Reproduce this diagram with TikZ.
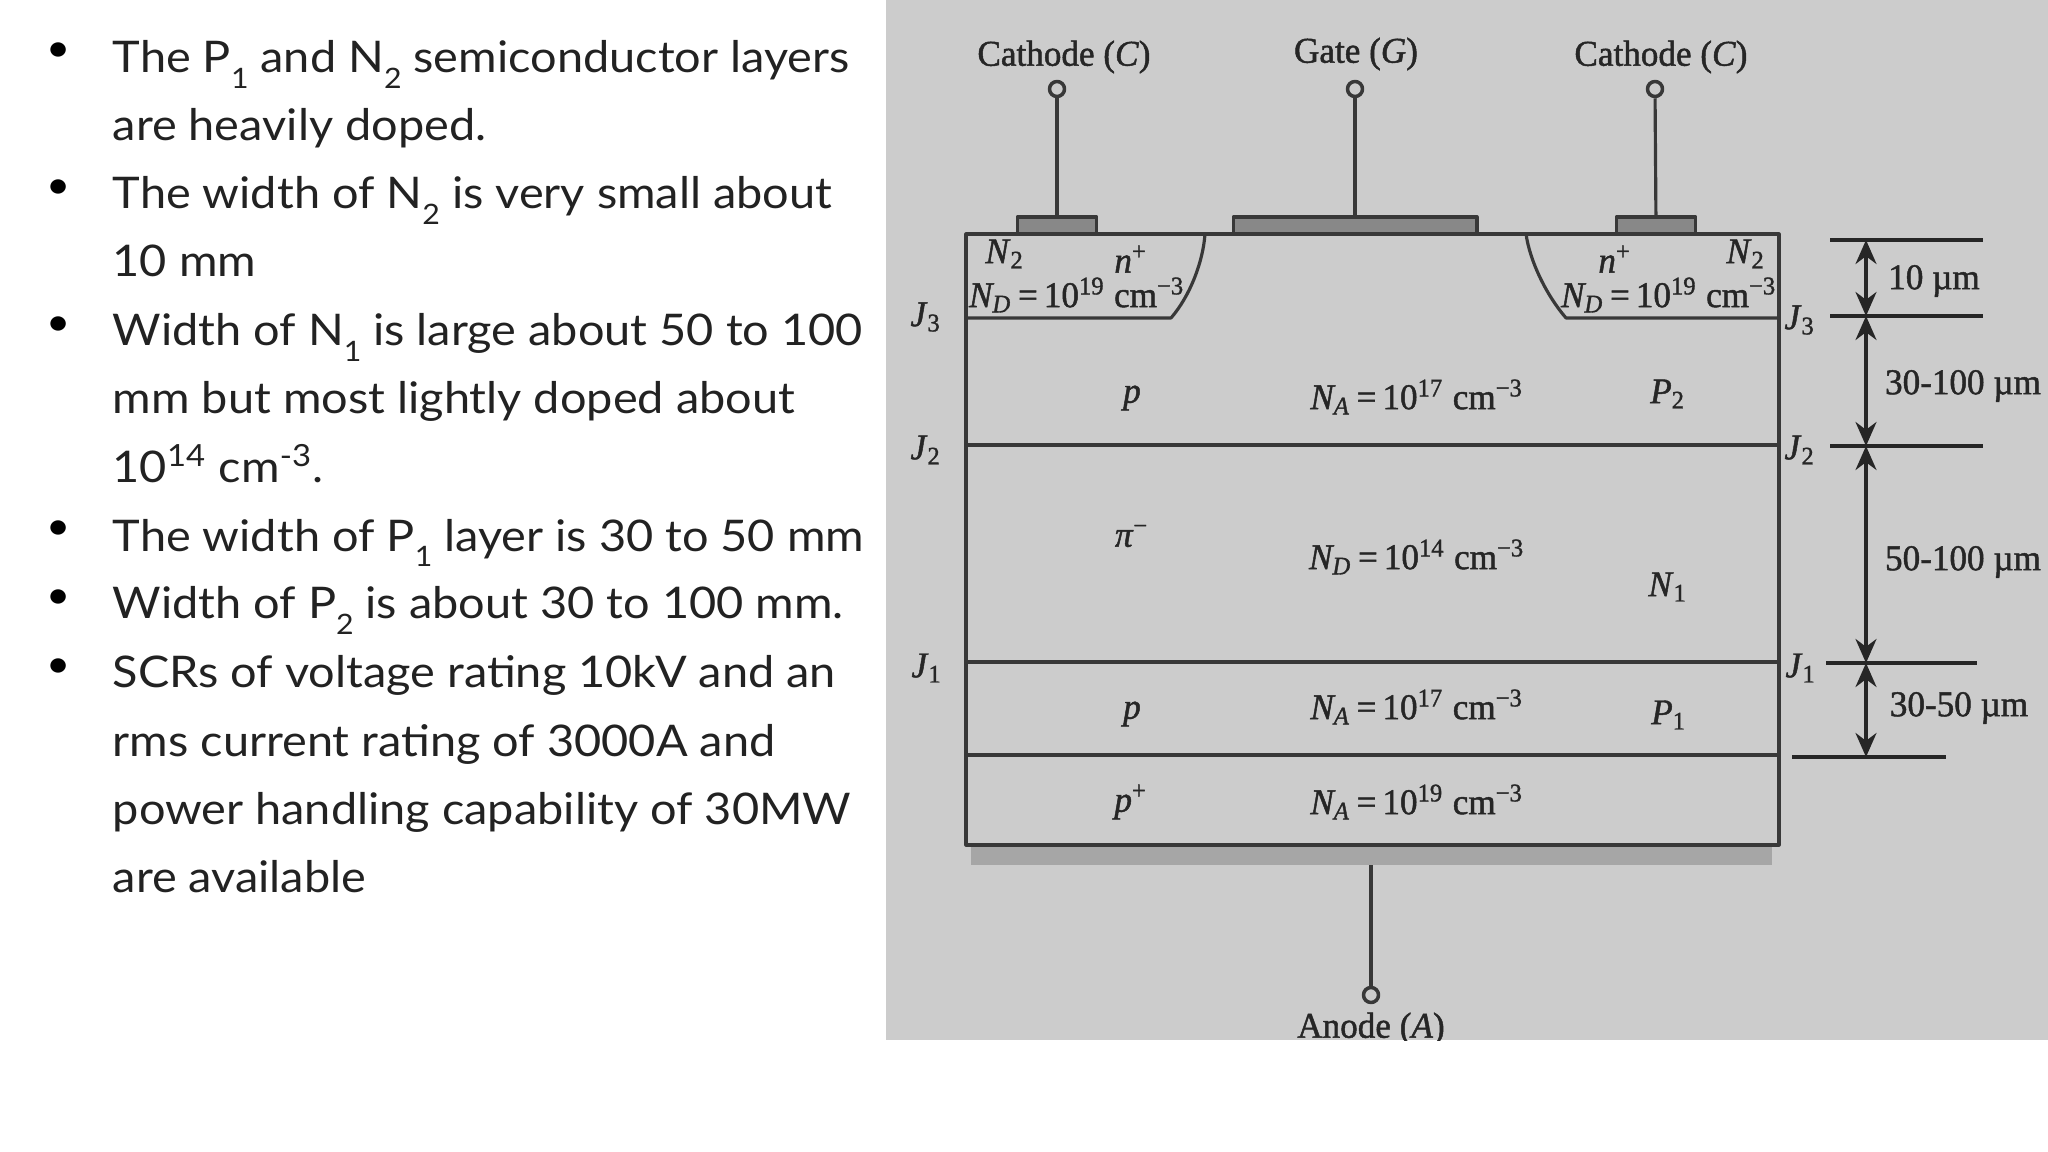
\documentclass[tikz,border=0pt]{standalone}
\usepackage{fontspec}
\setmainfont{Liberation Serif}
\newfontfamily\notefont[FakeStretch=1.075]{Lato}
\newfontfamily\lblfont[FakeBold=1.3,FakeStretch=.97]{Liberation Serif}
\usetikzlibrary{arrows.meta}
\definecolor{panel}{HTML}{CCCCCC}
\definecolor{padgray}{HTML}{888888}
\definecolor{shadowgray}{HTML}{A6A6A6}
\definecolor{inkgray}{HTML}{383838}
\definecolor{notegray}{HTML}{222222}
\newcommand{\lowsub}[1]{\raisebox{-.7ex}{\fontsize{8}{9}\selectfont #1}}
\newcommand{\ssub}[1]{\textsubscript{#1}}
\newcommand{\ssup}[1]{\textsuperscript{#1}}
\newcommand{\dope}[3]{\textit{N\ssub{#1}}\,=\,10\ssup{#2} cm\ssup{−#3}}
\tikzset{
	noteline/.style={anchor=base west,inner sep=0pt,font=\notefont\fontsize{12.4}{14}\selectfont,text=notegray},
	notedot/.style={anchor=base,inner sep=0pt,font=\notefont\fontsize{11}{12}\selectfont,text=black},
	lbl/.style={inner sep=0pt,font=\lblfont\fontsize{10.3}{12}\selectfont,text=black!85},
	terminal/.style={circle,draw=inkgray,line width=1pt,fill=panel,minimum size=.15cm,inner sep=0pt},
	pad/.style={draw=inkgray,line width=1.1pt,fill=padgray,inner sep=0pt},
	lead/.style={draw=inkgray,line width=.9pt},
	layer/.style={draw=inkgray,line width=.9pt},
	dim/.style={draw=black!85,line width=.9pt},
	dimarrow/.style={draw=black!85,line width=.9pt,<->,>={Stealth[length=2.4mm,width=2.1mm]}}
}
\begin{document}
\begin{tikzpicture}[x=.01cm,y=-.01cm,line join=round]
	\useasboundingbox (0,0) rectangle (2048,1152);
	%notes on the left
	\node[notedot] (b1) at (59,62) {•};
	\node[noteline] (l1) at (112,73) {The P\lowsub{1} and N\lowsub{2} semiconductor layers};
	\node[noteline] (l2) at (112,141) {are heavily doped.};
	\node[notedot] (b2) at (59,199) {•};
	\node[noteline] (l3) at (112,209) {The width of N\lowsub{2} is very small about};
	\node[noteline] (l4) at (112,277) {10 mm};
	\node[notedot] (b3) at (59,336) {•};
	\node[noteline] (l5) at (112,346) {Width of N\lowsub{1} is large about 50 to 100};
	\node[noteline] (l6) at (112,414) {mm but most lightly doped about};
	\node[noteline] (l7) at (112,482) {10\ssup{14} cm\ssup{-3}.};
	\node[notedot] (b4) at (59,540) {•};
	\node[noteline] (l8) at (112,551) {The width of P\lowsub{1} layer is 30 to 50 mm};
	\node[notedot] (b5) at (59,609) {•};
	\node[noteline] (l9) at (112,619) {Width of P\lowsub{2} is about 30 to 100 mm.};
	\node[notedot] (b6) at (59,677) {•};
	\node[noteline] (l10) at (112,687) {SCRs of voltage rating 10kV and an};
	\node[noteline] (l11) at (112,756) {rms current rating of 3000A and};
	\node[noteline] (l12) at (112,824) {power handling capability of 30MW};
	\node[noteline] (l13) at (112,892) {are available};
	%panel
	\fill[panel] (886,0) rectangle (2048,1040);
	\begin{scope}
		\clip (886,0) rectangle (2048,1040);
		\fill[shadowgray] (971,845) rectangle (1772,865);
		%device
		\draw[layer] (966,234) rectangle (1779,845);
		\draw[layer] (966,445)--(1779,445);
		\draw[layer] (966,662)--(1779,662);
		\draw[layer] (966,755)--(1779,755);
		\draw[layer,line width=1.3pt] (966,845)--(1779,845);
		\draw[layer] (966,318)--(1171,318)..controls (1190,296) and (1203,262)..(1205,234);
		\draw[layer] (1779,318)--(1566,318)..controls (1547,296) and (1530,262)..(1526,234);
		%contacts
		\node[pad,minimum width=.79cm,minimum height=.17cm] (padL) at (1057,225.5) {};
		\node[pad,minimum width=2.43cm,minimum height=.17cm] (padG) at (1355,225.5) {};
		\node[pad,minimum width=.79cm,minimum height=.17cm] (padR) at (1656,225.5) {};
		\node[terminal] (termL) at (1057,89) {};
		\node[terminal] (termG) at (1355,89) {};
		\node[terminal] (termR) at (1655,89) {};
		\node[terminal] (termA) at (1371,995) {};
		\coordinate (anodeTop) at (1371,865);
		\draw[lead] (termL)--(padL);
		\draw[lead] (termG)--(padG);
		\draw[lead] (termR)--(padR);
		\draw[lead] (anodeTop)--(termA);
		\node[lbl] (cathL) at (1064,57) {Cathode (\textit{C})};
		\node[lbl] (gate) at (1356,54) {Gate (\textit{G})};
		\node[lbl] (cathR) at (1661,57) {Cathode (\textit{C})};
		\node[lbl] (anode) at (1371,1029) {Anode (\textit{A})};
		%layer labels
		\node[lbl] (n2L) at (1005,254) {\textit{N}\ssub{2}};
		\node[lbl] (npL) at (1131,259) {\textit{n}\ssup{+}};
		\node[lbl] (ndL) at (1077,295) {\dope{D}{19}{3}};
		\node[lbl] (npR) at (1615,259) {\textit{n}\ssup{+}};
		\node[lbl] (n2R) at (1746,254) {\textit{N}\ssub{2}};
		\node[lbl] (ndR) at (1669,295) {\dope{D}{19}{3}};
		\node[lbl] (p2a) at (1132,398) {\textit{p}};
		\node[lbl] (na2) at (1417,397) {\dope{A}{17}{3}};
		\node[lbl] (p2) at (1668,394) {\textit{P}\ssub{2}};
		\node[lbl] (pim) at (1132,536) {\textit{π}\ssup{−}};
		\node[lbl] (nd1) at (1417,557) {\dope{D}{14}{3}};
		\node[lbl] (n1) at (1668,587) {\textit{N}\ssub{1}};
		\node[lbl] (p1a) at (1132,714) {\textit{p}};
		\node[lbl] (na1) at (1417,707) {\dope{A}{17}{3}};
		\node[lbl] (p1) at (1669,715) {\textit{P}\ssub{1}};
		\node[lbl] (pp) at (1131,802) {\textit{p}\ssup{+}};
		\node[lbl] (nap) at (1417,802) {\dope{A}{19}{3}};
		%junctions
		\node[lbl] (j3L) at (926,317) {\textit{J}\ssub{3}};
		\node[lbl] (j2L) at (926,450) {\textit{J}\ssub{2}};
		\node[lbl] (j1L) at (927,668) {\textit{J}\ssub{1}};
		\node[lbl] (j3R) at (1800,320) {\textit{J}\ssub{3}};
		\node[lbl] (j2R) at (1800,450) {\textit{J}\ssub{2}};
		\node[lbl] (j1R) at (1801,668) {\textit{J}\ssub{1}};
		%dimensions
		\coordinate (d0) at (1866,240);
		\coordinate (d1) at (1866,316);
		\coordinate (d2) at (1866,446);
		\coordinate (d3) at (1866,663);
		\coordinate (d4) at (1866,757);
		\draw[dim] (1830,240)--(1983,240);
		\draw[dim] (1830,316)--(1983,316);
		\draw[dim] (1830,446)--(1983,446);
		\draw[dim] (1826,663)--(1977,663);
		\draw[dim] (1792,757)--(1946,757);
		\draw[dimarrow] (d0)--(d1);
		\draw[dimarrow] (d1)--(d2);
		\draw[dimarrow] (d2)--(d3);
		\draw[dimarrow] (d3)--(d4);
		\node[lbl] (w10) at (1934,281) {10 µm};
		\node[lbl] (w30) at (1963,386) {30-100 µm};
		\node[lbl] (w50) at (1963,562) {50-100 µm};
		\node[lbl] (w35) at (1959,708) {30-50 µm};
	\end{scope}
\end{tikzpicture}
\end{document}
